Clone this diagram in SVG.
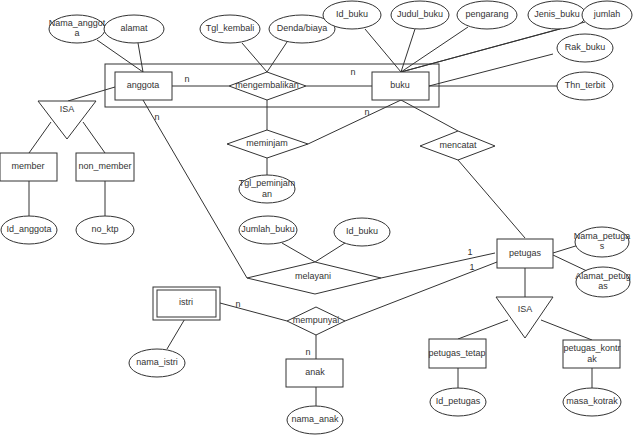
<svg xmlns="http://www.w3.org/2000/svg" width="640" height="436" viewBox="0 0 640 436">
<style>
.s{fill:#fff;stroke:#333;stroke-width:1}
.l{stroke:#333;stroke-width:1;fill:none}
text{font-family:"Liberation Sans",Arial,sans-serif;font-size:9px;fill:#333;text-anchor:middle;dominant-baseline:middle}
</style>
<rect width="640" height="436" fill="#fff"/>
<g id="connectors">
<path class="l" d="M97,40L143,72M138,43L143,72M242,43L267,72M287,42L267,72M172,86H229M306,86H372M267,100V130M267,158V175M115,87L68,101M51,122L29,153M83,122L105,153M29,181V216M105,181V216M143,100L247,278M401,100L308,144M401,100L458,131M458,160L525,238M365,29L401,72M415,29L401,72M468,27L401,72M560,29L401,72M585,22L401,72M553,54L429,86M557,86H429M282,243L315,262M345,243L315,262M381,278L495,253M345,321L497,262M553,253L582,244M553,255L589,272M525,268V297M508,320L458,339M541,320L592,340M458,368V388M592,368V388M220,303L287,321M316,335V359M186,317L167,349M316,387V406"/>
<rect class="l" x="105" y="64" width="334" height="43"/>
<text x="187" y="80">n</text><text x="353" y="73">n</text><text x="157" y="118">n</text><text x="367" y="113">n</text>
<text x="470" y="253">1</text><text x="472" y="268">1</text><text x="238" y="305">n</text><text x="308" y="353">n</text>
</g>
<g id="anggota"><rect class="s" x="115" y="72" width="57" height="28"/><text x="143" y="86">anggota</text></g>
<g id="buku"><rect class="s" x="372" y="72" width="57" height="28"/><text x="400" y="86">buku</text></g>
<g id="mengembalikan"><polygon class="s" points="229,86 267,72 306,86 267,100"/><text x="267" y="86">mengembalikan</text></g>
<g id="meminjam"><polygon class="s" points="227,144 267,130 308,144 267,158"/><text x="267" y="144">meminjam</text></g>
<g id="mencatat"><polygon class="s" points="420,146 458,131 495,146 458,160"/><text x="458" y="146">mencatat</text></g>
<g id="melayani"><polygon class="s" points="247,278 315,262 381,278 315,294"/><text x="313" y="277">melayani</text></g>
<g id="mempunyai"><polygon class="s" points="287,321 316,307 345,321 316,335"/><text x="316" y="321">mempunyai</text></g>
<g id="Nama_anggota"><ellipse class="s" cx="77" cy="29" rx="28" ry="14"/><text x="77" y="24">Nama_anggot</text><text x="77" y="34">a</text></g>
<g id="alamat"><ellipse class="s" cx="134" cy="29" rx="30" ry="14"/><text x="134" y="29">alamat</text></g>
<g id="Tgl_kembali"><ellipse class="s" cx="230" cy="29" rx="30" ry="14"/><text x="230" y="29">Tgl_kembali</text></g>
<g id="Denda"><ellipse class="s" cx="302" cy="29" rx="33" ry="14"/><text x="302" y="29">Denda/biaya</text></g>
<g id="Id_buku"><ellipse class="s" cx="352" cy="15" rx="29" ry="14"/><text x="352" y="15">Id_buku</text></g>
<g id="Judul_buku"><ellipse class="s" cx="420" cy="15" rx="29" ry="14"/><text x="420" y="15">Judul_buku</text></g>
<g id="pengarang"><ellipse class="s" cx="487" cy="15" rx="30" ry="14"/><text x="487" y="15">pengarang</text></g>
<g id="Jenis_buku"><ellipse class="s" cx="557" cy="15" rx="29" ry="14"/><text x="557" y="15">Jenis_buku</text></g>
<g id="jumlah"><ellipse class="s" cx="607" cy="15" rx="25" ry="14"/><text x="607" y="15">jumlah</text></g>
<g id="Rak_buku"><ellipse class="s" cx="585" cy="48" rx="28" ry="14"/><text x="585" y="48">Rak_buku</text></g>
<g id="Thn_terbit"><ellipse class="s" cx="585" cy="86" rx="28" ry="14"/><text x="585" y="86">Thn_terbit</text></g>
<g id="isa1"><polygon class="s" points="38,101 96,101 67,139"/><text x="67" y="110">ISA</text></g>
<g id="member"><rect class="s" x="0" y="153" width="57" height="28"/><text x="28" y="167">member</text></g>
<g id="non_member"><rect class="s" x="76" y="153" width="58" height="28"/><text x="105" y="167">non_member</text></g>
<g id="Id_anggota"><ellipse class="s" cx="29" cy="230" rx="28" ry="14"/><text x="29" y="230">Id_anggota</text></g>
<g id="no_ktp"><ellipse class="s" cx="105" cy="230" rx="29" ry="14"/><text x="105" y="230">no_ktp</text></g>
<g id="Tgl_peminjaman"><ellipse class="s" cx="267" cy="189" rx="28" ry="14"/><text x="267" y="184">Tgl_peminjam</text><text x="267" y="195">an</text></g>
<g id="Jumlah_buku"><ellipse class="s" cx="268" cy="230" rx="29" ry="14"/><text x="268" y="230">Jumlah_buku</text></g>
<g id="Id_buku2"><ellipse class="s" cx="362" cy="232" rx="28" ry="14"/><text x="362" y="232">Id_buku</text></g>
<g id="petugas"><rect class="s" x="497" y="239" width="56" height="29"/><text x="525" y="254">petugas</text></g>
<g id="Nama_petugas"><ellipse class="s" cx="602" cy="242" rx="27" ry="15"/><text x="602" y="237">Nama_petuga</text><text x="602" y="247">s</text></g>
<g id="Alamat_petugas"><ellipse class="s" cx="603" cy="282" rx="27" ry="15"/><text x="603" y="277">Alamat_petug</text><text x="603" y="287">as</text></g>
<g id="isa2"><polygon class="s" points="496,297 553,297 525,338"/><text x="525" y="310">ISA</text></g>
<g id="petugas_tetap"><rect class="s" x="429" y="339" width="57" height="29"/><text x="457" y="354">petugas_tetap</text></g>
<g id="petugas_kontrak"><rect class="s" x="563" y="340" width="57" height="28"/><text x="592" y="349">petugas_kontr</text><text x="592" y="360">ak</text></g>
<g id="Id_petugas"><ellipse class="s" cx="458" cy="402" rx="28" ry="14"/><text x="458" y="402">Id_petugas</text></g>
<g id="masa_kotrak"><ellipse class="s" cx="592" cy="402" rx="29" ry="14"/><text x="592" y="402">masa_kotrak</text></g>
<g id="istri"><rect class="s" x="153" y="287" width="67" height="33"/><rect class="s" x="157" y="290" width="59" height="27"/><text x="186" y="303">istri</text></g>
<g id="nama_istri"><ellipse class="s" cx="157" cy="363" rx="28" ry="14"/><text x="157" y="363">nama_istri</text></g>
<g id="anak"><rect class="s" x="286" y="359" width="57" height="28"/><text x="315" y="373">anak</text></g>
<g id="nama_anak"><ellipse class="s" cx="315" cy="420" rx="28" ry="14"/><text x="315" y="420">nama_anak</text></g>
</svg>
